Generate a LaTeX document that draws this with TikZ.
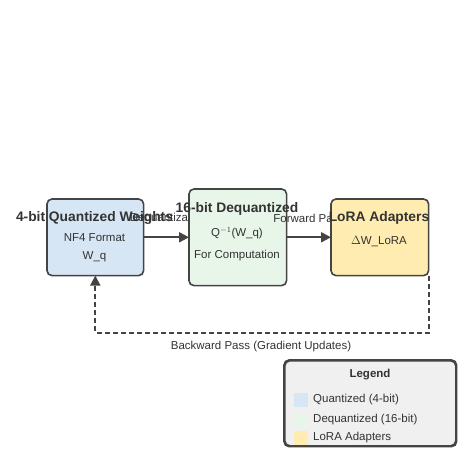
\documentclass[tikz,border=0pt]{standalone}
\usepackage{fontspec}
\setmainfont{Liberation Sans}
\usetikzlibrary{arrows.meta}
\pgfdeclarelayer{la}
\pgfdeclarelayer{lb}
\pgfdeclarelayer{lc}
\pgfdeclarelayer{ld}
\pgfdeclarelayer{le}
\pgfsetlayers{la,lb,lc,ld,le,main}
\definecolor{edgec}{HTML}{444444}
\definecolor{txtc}{HTML}{333333}
\definecolor{qfill}{HTML}{D6E6F4}
\definecolor{dfill}{HTML}{E8F5E9}
\definecolor{lfill}{HTML}{FFECB0}
\definecolor{legfill}{HTML}{F0F0F0}
\tikzset{
  x=1pt,y=-1pt,
  box/.style={draw=edgec,line width=1.6pt,rounded corners=5pt,inner sep=0pt,anchor=north west},
  ttl/.style={font=\bfseries\fontsize{13.8}{15}\selectfont,text=txtc,inner sep=0pt},
  body/.style={font=\fontsize{11.5}{13}\selectfont,text=txtc,inner sep=0pt},
  elabel/.style={font=\fontsize{11.5}{13}\selectfont,text=txtc,inner sep=0pt},
  flow/.style={draw=edgec,line width=2pt,-{Triangle[length=10pt,width=10pt]}},
  back/.style={draw=edgec,line width=2pt,dash pattern=on 5pt off 3pt,-{Triangle[length=10pt,width=10pt]}},
  swatch/.style={inner sep=0pt,minimum width=14pt,minimum height=14pt,anchor=north west},
}
\begin{document}
\begin{tikzpicture}
\useasboundingbox (0,0) rectangle (474,474);
% box shapes (names only; drawn on layers below)
\node[box,draw=none,minimum width=95pt,minimum height=75pt] (q) at (47,199) {};
\node[box,draw=none,minimum width=96pt,minimum height=95pt] (d) at (189,189) {};
\node[box,draw=none,minimum width=96pt,minimum height=75pt] (l) at (331,199) {};
\begin{pgfonlayer}{la}
\draw[box,fill=qfill] (q.north west) rectangle (q.south east);
\draw[flow] (q.east) -- (d.west) node[elabel,midway,yshift=19pt,xshift=2pt] (lab1) {Dequantization};
\end{pgfonlayer}
\begin{pgfonlayer}{lb}
\draw[box,fill=dfill] (d.north west) rectangle (d.south east);
\end{pgfonlayer}
\begin{pgfonlayer}{lc}
\draw[flow] (d.east) -- (l.west) node[elabel,midway,yshift=19pt] (lab2) {Forward Pass};
\end{pgfonlayer}
\begin{pgfonlayer}{ld}
\draw[box,fill=lfill] (l.north west) rectangle (l.south east);
\end{pgfonlayer}
\begin{pgfonlayer}{le}
\coordinate (b1) at (l.south east);
\coordinate (b2) at ([yshift=-57pt]l.south east);
\coordinate (b3) at ([yshift=-57pt]q.south);
\draw[back] (b1) -- (b2) -- (b3) -- (q.south);
\end{pgfonlayer}
\node[elabel] (blab) at (261,347) {Backward Pass (Gradient Updates)};
% texts
\node[ttl] (qt) at (94.5,218) {4-bit Quantized Weights};
\node[body] (q1) at (94.5,238) {NF4 Format};
\node[body] (q2) at (94.5,257) {W\_q};
\node[ttl] (dt) at (237,209) {16-bit Dequantized};
\node[body] (d1) at (237,233) {Q$^{-1}$(W\_q)};
\node[body] (d2) at (237,256) {For Computation};
\node[ttl] (lt) at (379,218) {LoRA Adapters};
\node[body] (l1) at (379,242) {$\Delta$W\_LoRA};
% legend
\node[box,fill=legfill,minimum width=171pt,minimum height=85pt] (leg) at (284,360) {};
\node[font=\bfseries\fontsize{11.5}{13}\selectfont,text=txtc,inner sep=0pt] (legt) at (370,375) {Legend};
\begin{scope}
\clip[rounded corners=5pt] (leg.north west) rectangle (leg.south east);
\node[swatch,fill=qfill] (s1) at (294,393) {};
\node[swatch,fill=dfill] (s2) at (294,413) {};
\node[swatch,fill=lfill] (s3) at (294,431) {};
\end{scope}
\draw[draw=edgec,line width=1.6pt,rounded corners=5pt] (leg.north west) rectangle (leg.south east);
\node[body,anchor=west] (t1) at (313,400) {Quantized (4-bit)};
\node[body,anchor=west] (t2) at (313,420) {Dequantized (16-bit)};
\node[body,anchor=west] (t3) at (313,438) {LoRA Adapters};
\end{tikzpicture}
\end{document}
